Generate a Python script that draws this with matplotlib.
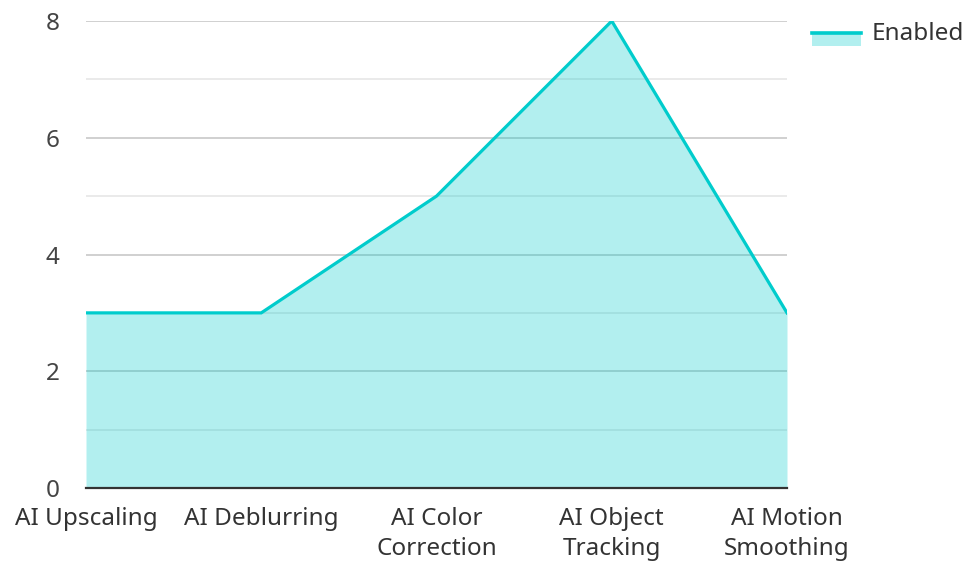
import matplotlib
matplotlib.use("Agg")
import matplotlib.pyplot as plt
from matplotlib.patches import Rectangle
from matplotlib.lines import Line2D

plt.rcParams["font.family"] = ["Noto Sans", "DejaVu Sans"]

features = ["AI Upscaling", "AI Deblurring", "AI Color\nCorrection",
            "AI Object\nTracking", "AI Motion\nSmoothing"]
enabled = [3, 3, 5, 8, 3]
series_name = "Enabled"

LINE = "#00cccc"
FILL = "#b2efef"
FS = 17.5

fig = plt.figure(figsize=(9.68, 5.62), dpi=100)
ax = fig.add_axes([86 / 968, 1 - 488 / 562, (787 - 86) / 968, (488 - 21) / 562])

xs = list(range(len(features)))
ax.fill_between(xs, enabled, 0, color=LINE, alpha=0.3, lw=0, zorder=2)
ax.plot(xs, enabled, color=LINE, lw=2.3, zorder=3, solid_joinstyle="miter")

ax.set_xlim(0, len(features) - 1)
ax.set_ylim(0, 8)
ax.set_yticks([0, 2, 4, 6, 8])
ax.set_yticks([1, 3, 5, 7], minor=True)
ax.grid(axis="y", which="major", color="#c8c8c8", lw=1.2, zorder=1)
ax.grid(axis="y", which="minor", color="#e6e6e6", lw=1.2, zorder=1)
ax.set_axisbelow(True)

ax.set_xticks(xs)
ax.set_xticklabels(features, fontsize=FS, color="#333333", linespacing=1.3)
ax.tick_params(axis="x", length=0, pad=14)
ax.tick_params(axis="y", which="both", length=0, pad=19, labelsize=FS, labelcolor="#444444")

for s in ("left", "right", "top"):
    ax.spines[s].set_visible(False)
ax.spines["bottom"].set_color("#333333")
ax.spines["bottom"].set_linewidth(1.6)
ax.spines["bottom"].set_zorder(4)

# legend swatch: filled band with the series line along its top edge
fig.add_artist(Rectangle((812 / 968, 1 - 46 / 562), 49 / 968, 14 / 562,
                         transform=fig.transFigure, facecolor=FILL, edgecolor="none"))
fig.add_artist(Line2D([812 / 968, 861 / 968], [1 - 32.5 / 562] * 2,
                      transform=fig.transFigure, color=LINE, lw=2.6))
fig.text(872 / 968, 1 - 34 / 562, series_name, fontsize=FS, color="#333333", va="center", ha="left")

fig.savefig("out.png", dpi=100)
